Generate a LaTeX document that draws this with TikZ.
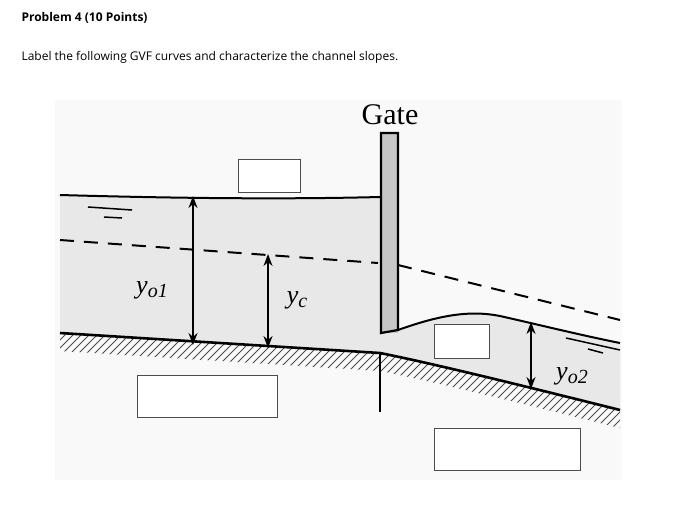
\documentclass[tikz,border=0pt]{standalone}
\usepackage{fontspec}
\setmainfont{Liberation Serif}
\newfontfamily\uisans{Open Sans}
\usetikzlibrary{arrows.meta}
\begin{document}
\begin{tikzpicture}[x=1pt,y=-1pt,
  ansbox/.style={draw=black!70,fill=white,line width=1pt},
  dimarrow/.style={{Stealth[length=12pt,width=9pt]}-{Stealth[length=12pt,width=9pt]},line width=1.6pt},
  bed/.style={line width=2.6pt},
  dashline/.style={dash pattern=on 14pt off 10pt,line width=2pt},
  lbl/.style={font=\fontsize{26}{28}\selectfont\itshape}]
\useasboundingbox (0,0) rectangle (677,509);
\node[anchor=west,font=\uisans\bfseries\fontsize{12}{14}\selectfont] (title) at (18,18) {Problem 4 (10 Points)};
\node[anchor=west,font=\uisans\fontsize{12}{14}\selectfont] (instr) at (18,57) {Label the following GVF curves and characterize the channel slopes.};
% background
\fill[gray!5] (55,100) rectangle (622,480);
% water
\fill[gray!18] (60,195) .. controls (200,199) and (300,199) .. (380,197) -- (398,197) -- (398,330)
  .. controls (440,315) and (470,310) .. (500,316) .. controls (540,325) and (580,335) .. (620,343)
  -- (620,410) .. controls (540,390) and (440,365) .. (380,353) -- (60,333) -- cycle;
% hatching
\begin{scope}
\clip (60,333) -- (380,353) .. controls (440,365) and (540,390) .. (620,410) -- (620,428) .. controls (540,408) and (440,383) .. (380,371) -- (60,351) -- cycle;
\foreach \i in {0,...,85} {\draw[line width=0.9pt,black!70] (-40+\i*8,440) -- (80+\i*8,320);}
\end{scope}
% beds
\draw[bed] (60,333) -- (380,353) .. controls (440,365) and (540,390) .. (620,410);
% surfaces
\draw[line width=2pt] (60,195) .. controls (200,199) and (300,199) .. (380,197);
\draw[line width=2pt] (398,330) .. controls (440,315) and (470,310) .. (500,316) .. controls (540,325) and (580,335) .. (620,343);
% critical depth
\draw[dashline] (60,240) -- (378,263);
\draw[dashline] (398,265) -- (620,320);
% gate
\fill[gray!45] (381,133) rectangle (398,333);
\draw[line width=2.2pt] (381,133) -- (381,333) -- (398,330) -- (398,133) -- cycle;
\draw[line width=1.8pt] (380,353) -- (380,412);
\node[font=\fontsize{30}{32}\selectfont] (gate) at (390,115) {Gate};
% water level markers
\draw[line width=1.5pt] (88,207) -- (132,210) (104,217) -- (122,218);
\draw[line width=1.5pt] (566,338) -- (620,350) (588,349) -- (603,353);
% dimensions
\coordinate (a1) at (193,196); \coordinate (b1) at (193,345);
\draw[dimarrow] (a1) -- (b1);
\coordinate (a2) at (268,254); \coordinate (b2) at (268,348);
\draw[dimarrow] (a2) -- (b2);
\coordinate (a3) at (531,322); \coordinate (b3) at (531,389);
\draw[dimarrow] (a3) -- (b3);
\node[lbl] (yo1) at (152,290) {y\raisebox{-4pt}{\fontsize{20}{22}\selectfont o1}};
\node[lbl] (yc) at (297,300) {y\raisebox{-4pt}{\fontsize{20}{22}\selectfont c}};
\node[lbl] (yo2) at (572,376) {y\raisebox{-4pt}{\fontsize{20}{22}\selectfont o2}};
% answer boxes
\node[ansbox,minimum width=62pt,minimum height=33pt] (box1) at (269,176) {};
\node[ansbox,minimum width=140pt,minimum height=42pt] (box2) at (207,396) {};
\node[ansbox,minimum width=55pt,minimum height=34pt] (box3) at (462,341) {};
\node[ansbox,minimum width=146pt,minimum height=42pt] (box4) at (507,449) {};
\end{tikzpicture}
\end{document}
